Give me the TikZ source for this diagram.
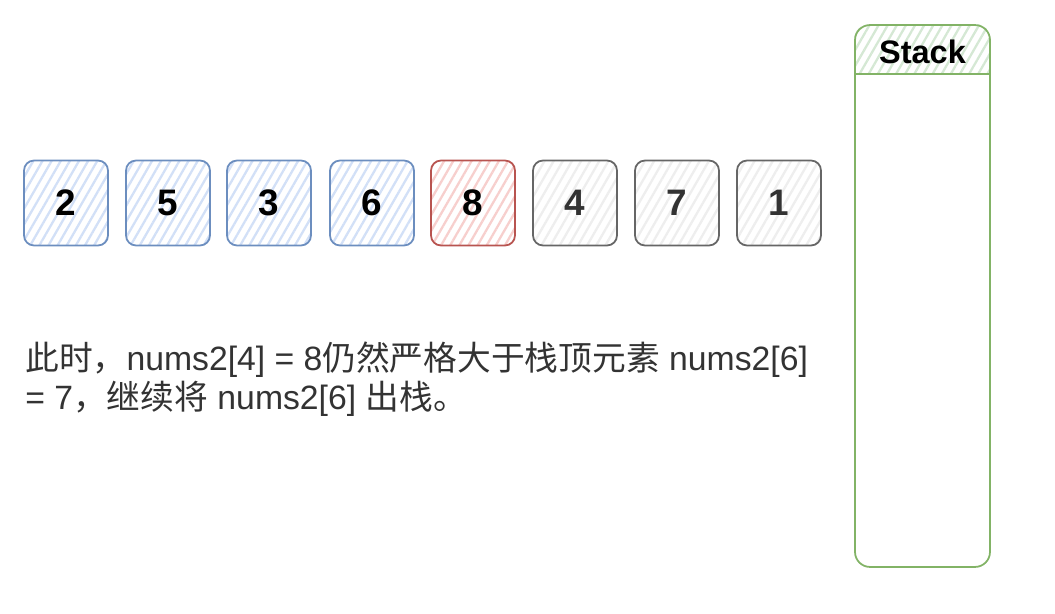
\documentclass[tikz,border=0pt]{standalone}
\usepackage{fontspec}
\setmainfont{Liberation Sans}
\newfontfamily\cjk{Noto Sans CJK SC}
\usetikzlibrary{patterns.meta,backgrounds}
\definecolor{blueStroke}{HTML}{6C8EBF}
\definecolor{blueHatch}{HTML}{D2E0F7}
\definecolor{redStroke}{HTML}{B85450}
\definecolor{redHatch}{HTML}{F7CFCD}
\definecolor{grayStroke}{HTML}{666666}
\definecolor{grayHatch}{HTML}{EEEEEE}
\definecolor{greenStroke}{HTML}{82B366}
\definecolor{greenHatch}{HTML}{D5E8D4}
\definecolor{textGray}{HTML}{333333}

\begin{document}
\begin{tikzpicture}[x=0.02cm,y=-0.02cm,
    cell/.style={draw,line width=1pt,rounded corners=0.2cm,minimum width=1.68cm,minimum height=1.7cm,
      font=\fontsize{21}{25}\selectfont\bfseries},
    hatch/.style={pattern={Lines[angle=60,distance=4.5pt,line width=1.3pt]},pattern color=#1},
    done/.style={cell,blueStroke,hatch=blueHatch,text=black},
    current/.style={cell,redStroke,hatch=redHatch,text=black},
    todo/.style={cell,grayStroke,hatch=grayHatch,text=textGray}]
    \useasboundingbox (0,0) rectangle (1055,614);

    % Array cells
    \node[done] (c0) at (66,203) {2};
    \node[done] (c1) at (168,203) {5};
    \node[done] (c2) at (269,203) {3};
    \node[done] (c3) at (372,203) {6};
    \node[current] (c4) at (473,203) {8};
    \node[todo] (c5) at (575,203) {4};
    \node[todo] (c6) at (677,203) {7};
    \node[todo] (c7) at (779,203) {1};

    % Stack
    \node[draw=greenStroke,line width=1pt,rounded corners=0.3cm,minimum width=2.7cm,minimum height=10.84cm] (stack) at (922.5,296) {};
    \coordinate (headL) at ([yshift=-1cm]stack.north west);
    \coordinate (headR) at ([yshift=-1cm]stack.north east);
    \begin{pgfonlayer}{background}
      \fill[white] (0,0) rectangle (1055,614);
      \begin{scope}
        \clip[rounded corners=0.3cm] (stack.north west) rectangle (stack.south east);
        \fill[hatch=greenHatch] (stack.north west) rectangle (headR);
      \end{scope}
    \end{pgfonlayer}
    \draw[greenStroke,line width=1pt] (headL) -- (headR);
    \node[font=\fontsize{18.5}{22}\selectfont\bfseries] (stacklbl) at ([yshift=-0.56cm]stack.north) {Stack};

    % Explanation
    \node[anchor=west,align=left,inner sep=0pt,text=textGray,font=\fontsize{19.2}{22}\selectfont] (note) at (25,379)
      {{\cjk 此时，}nums2[4] = 8{\cjk 仍然严格大于栈顶元素} nums2[6]\\
       = 7{\cjk ，继续将} nums2[6] {\cjk 出栈。}};
\end{tikzpicture}
\end{document}
